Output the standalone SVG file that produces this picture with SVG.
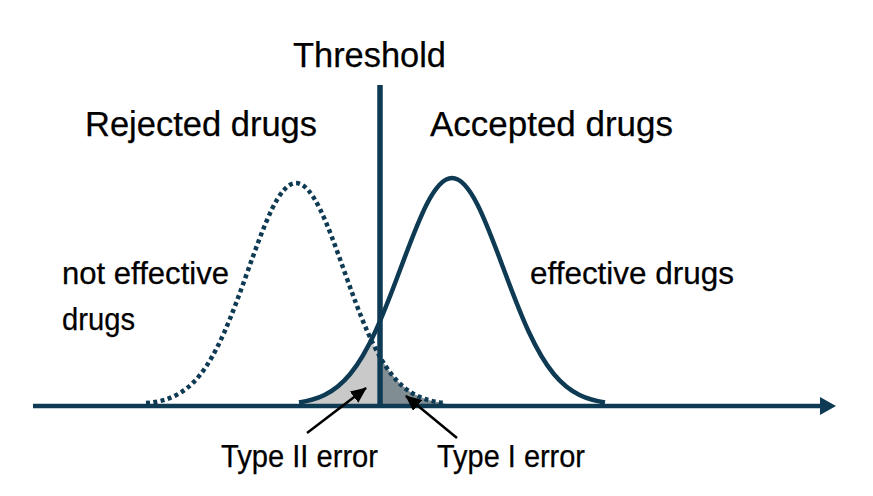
<svg xmlns="http://www.w3.org/2000/svg" width="873" height="496" viewBox="0 0 873 496">
<defs>
<style>
.lbl{font-family:"Liberation Sans","Arial",sans-serif;fill:#000;stroke:#000;stroke-width:0.25;}
.big{font-size:34.5px;}
.mid{font-size:31.5px;}
.navy{stroke:#0e3a54;fill:none;}
.arr{stroke:#000;stroke-width:2.5;fill:none;}
</style>
<marker id="ah" markerUnits="userSpaceOnUse" markerWidth="16" markerHeight="14" viewBox="0 0 16 14" refX="15" refY="7" orient="auto">
<path d="M0,0 L16,7 L0,14 Z" fill="#000"/>
</marker>
</defs>
<rect width="873" height="496" fill="#fff"/>

<g id="type2-area">
<polygon fill="#c9c9c9" points="299,404 299,402.5 310,400.3 320,397 330,392 340,384.6 350,374.3 355,367.8 360,360.4 365,352 368,346.5 371.5,340 374,345.7 377,351.5 377,404"/>
</g>
<g id="type1-area">
<polygon fill="#808d93" points="382,360.4 390,372.4 400,383.8 410,391.8 420,397.1 430,400.5 440,402.5 446,404 382,404"/>
</g>

<g id="curve-not-effective">
<path class="navy" stroke-width="4.5" stroke-dasharray="4 3.4" d="M146,403 L152,402.54 C160,401.31 168,399.31 176,395.25 C184,391.19 192,384.98 200,374.96 C208,364.94 216,350.94 224,332.92 C232,314.9 240,292.8 248,270.36 C256,247.92 264,225.42 272,209.09 C280,192.76 288,183 296,183 C304,183 312,192.76 320,209.09 C328,225.42 336,247.92 344,270.36 C352,292.8 360,314.9 368,332.92 C376,350.94 384,364.94 392,374.96 C400,384.98 408,391.19 416,395.25 C424,399.31 432,401.31 440,402.54 L446,403"/>
</g>

<g id="curve-effective">
<path class="navy" stroke-width="4.5" d="M299,402.48 C307.5,401.22 316,399.18 324.5,395.03 C333,390.88 341.5,384.53 350,374.29 C358.5,364.05 367,349.72 375.5,331.29 C384,312.86 392.5,290.27 401,267.32 C409.5,244.37 418,221.36 426.5,204.67 C435,187.98 443.5,178 452,178 C460.5,178 469,187.98 477.5,204.67 C486,221.36 494.5,244.37 503,267.32 C511.5,290.27 520,312.86 528.5,331.29 C537,349.72 545.5,364.05 554,374.29 C562.5,384.53 571,390.88 579.5,395.03 C588,399.18 596.5,401.22 605,402.48"/>
</g>

<g id="axis">
<line class="navy" stroke-width="4.5" x1="33" y1="406" x2="822" y2="406"/>
<polygon fill="#0e3a54" points="820,397 836,406 820,415"/>
</g>

<g id="threshold">
<line class="navy" stroke-width="5.5" x1="380" y1="85" x2="380" y2="406"/>
<text class="lbl big" x="293" y="67" textLength="153" lengthAdjust="spacingAndGlyphs">Threshold</text>
</g>

<g id="rejected">
<text class="lbl big" x="85" y="136" textLength="232" lengthAdjust="spacingAndGlyphs">Rejected drugs</text>
</g>
<g id="accepted">
<text class="lbl big" x="430" y="136" textLength="243" lengthAdjust="spacingAndGlyphs">Accepted drugs</text>
</g>
<g id="not-effective">
<text class="lbl mid" x="62" y="284" textLength="167" lengthAdjust="spacingAndGlyphs">not effective</text>
<text class="lbl mid" x="62" y="330" textLength="73" lengthAdjust="spacingAndGlyphs">drugs</text>
</g>
<g id="effective">
<text class="lbl mid" x="530" y="284" textLength="204" lengthAdjust="spacingAndGlyphs">effective drugs</text>
</g>
<g id="type2">
<text class="lbl mid" x="221" y="467" textLength="157" lengthAdjust="spacingAndGlyphs">Type II error</text>
</g>
<g id="type1">
<text class="lbl mid" x="437" y="467" textLength="148" lengthAdjust="spacingAndGlyphs">Type I error</text>
</g>

<g id="connectors">
<line class="arr" x1="307" y1="433" x2="366" y2="388" marker-end="url(#ah)"/>
<line class="arr" x1="457" y1="438" x2="406" y2="396" marker-end="url(#ah)"/>
</g>
</svg>
